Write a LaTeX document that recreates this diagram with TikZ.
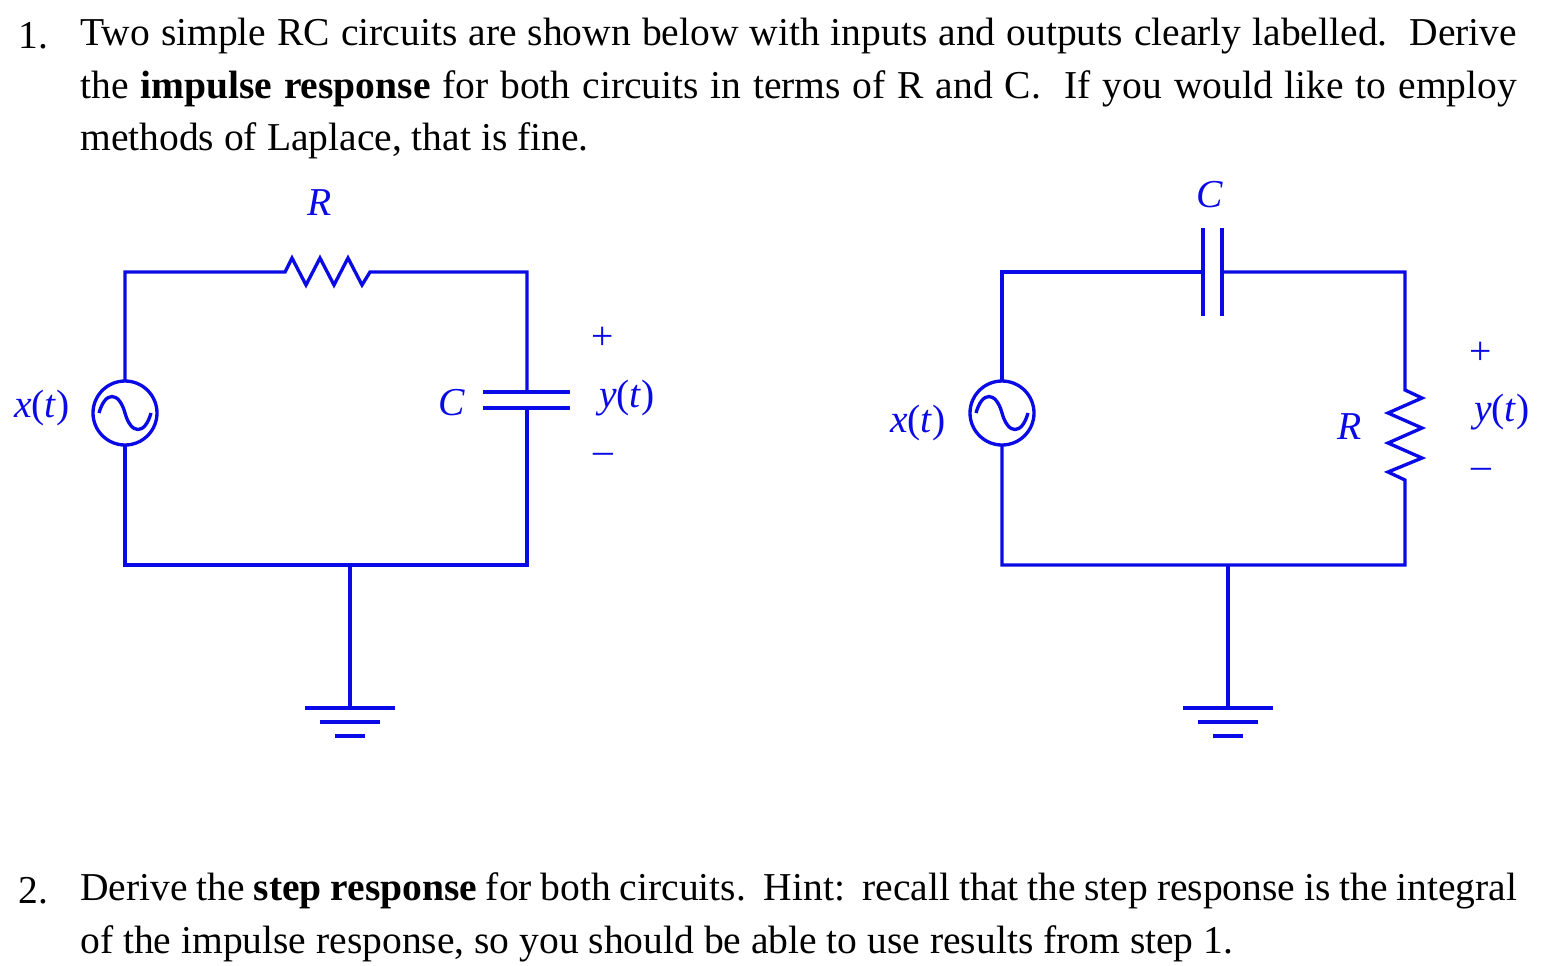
\documentclass[tikz,border=0pt]{standalone}
\usepackage{fontspec}
\setmainfont{Liberation Serif}
\tikzset{
    wire/.style={draw=cblue, line width=1.9pt},
    lbl/.style={text=cblue, font=\fontsize{22.5}{26}\selectfont\itshape, inner sep=0pt},
    txt/.style={anchor=west, inner sep=0pt, font=\fontsize{22.5}{26}\selectfont}
}
\definecolor{cblue}{RGB}{10,10,230}
\newcommand\jline[1]{\makebox[28.74cm][s]{#1}}
\begin{document}
\begin{tikzpicture}[x=0.02cm, y=-0.02cm]
\useasboundingbox (0,0) rectangle (1545,965);

% Problem text
\node[txt] (n1) at (18,36) {1.};
\node[txt] (l1) at (80,36) {\jline{Two simple RC circuits are shown below with inputs and outputs clearly labelled.\ \ Derive}};
\node[txt] (l2) at (80,89) {\jline{the \textbf{impulse response} for both circuits in terms of R and C.\ \ If you would like to employ}};
\node[txt] (l3) at (80,141) {methods of Laplace, that is fine.};
\node[txt] (n2) at (18,891) {2.};
\node[txt] (l4) at (80,891) {\jline{Derive the \textbf{step response} for both circuits.\ \ Hint:\ \ recall that the step response is the integral}};
\node[txt] (l5) at (80,944) {of the impulse response, so you should be able to use results from step 1.};

% Macros for repeated parts
\def\source#1#2{%
    \draw[wire] (#1,#2) circle (32);
    \draw[wire] (#1-26,#2) .. controls (#1-20,#2-22) and (#1-6,#2-22) .. (#1,#2)
        .. controls (#1+6,#2+22) and (#1+20,#2+22) .. (#1+26,#2);
}
\def\ground#1{%
    \draw[wire] (#1,565) -- (#1,708);
    \draw[wire] (#1-45,708) -- (#1+45,708);
    \draw[wire] (#1-30,722) -- (#1+30,722);
    \draw[wire] (#1-15,736) -- (#1+15,736);
}

% Left circuit
\coordinate (ra) at (285,272);
\coordinate (rb) at (370,272);
\draw[wire] (125,381) -- (125,272) -- (ra)
    -- (292,258) -- (306,285) -- (320,258) -- (334,285) -- (348,258) -- (362,285) -- (rb)
    -- (527,272) -- (527,392);
\draw[wire] (483,392) -- (570,392);
\draw[wire] (483,408) -- (570,408);
\draw[wire] (527,408) -- (527,565) -- (125,565) -- (125,445);
\source{125}{413}
\ground{350}
\node[lbl] (rl) at (320,203) {R};
\node[lbl] (cl) at (452,403) {C};
\node[lbl] (xl) at (42,408) {x\/\upshape(\itshape t\/\upshape)};
\node[lbl, font=\fontsize{22.5}{26}\selectfont] (pl) at (603,338) {+};
\node[lbl] (yl) at (627,398) {y\upshape(\itshape t\/\upshape)};
\node[lbl, font=\fontsize{22.5}{26}\selectfont] (ml) at (603,458) {\textendash};

% Right circuit
\draw[wire] (1002,381) -- (1002,272) -- (1203,272);
\draw[wire] (1203,228) -- (1203,316);
\draw[wire] (1222,228) -- (1222,316);
\draw[wire] (1222,272) -- (1405,272) -- (1405,390)
    -- (1422,398) -- (1388,413) -- (1422,428) -- (1388,443) -- (1422,458) -- (1388,472) -- (1405,480)
    -- (1405,565) -- (1002,565) -- (1002,445);
\source{1002}{413}
\ground{1228}
\node[lbl] (cr) at (1210,195) {C};
\node[lbl] (rr) at (1350,427) {R};
\node[lbl] (xr) at (918,423) {x\/\upshape(\itshape t\/\upshape)};
\node[lbl, font=\fontsize{22.5}{26}\selectfont] (pr) at (1481,353) {+};
\node[lbl] (yr) at (1502,412) {y\upshape(\itshape t\/\upshape)};
\node[lbl, font=\fontsize{22.5}{26}\selectfont] (mr) at (1481,473) {\textendash};
\end{tikzpicture}
\end{document}
